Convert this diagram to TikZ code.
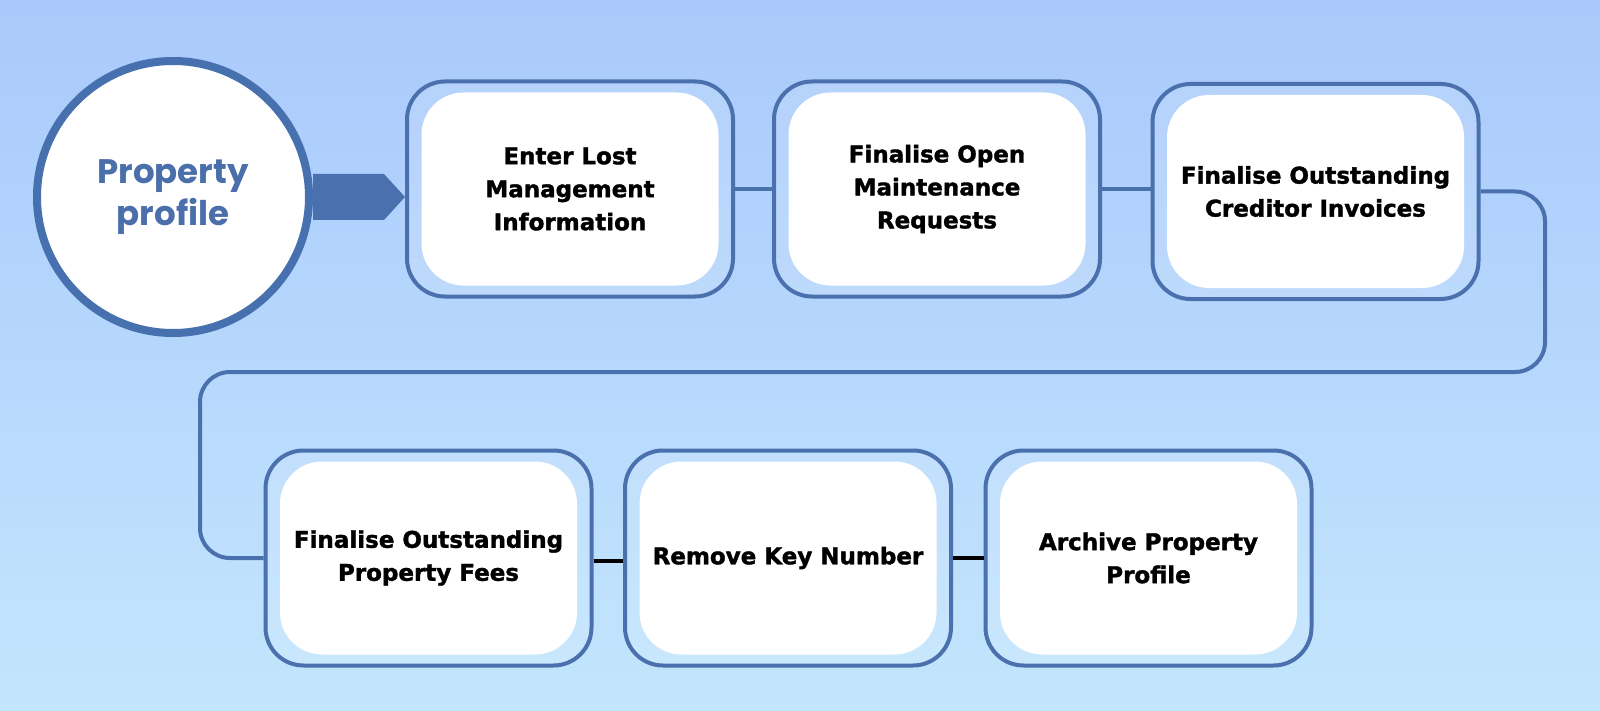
\documentclass[tikz,border=0pt]{standalone}
\usepackage{fontspec}
\setmainfont{DejaVu Sans}
\newfontfamily\stepfont{DejaVu Sans}[BoldFeatures={FakeBold=1.6}]
\newfontfamily\titlefont{Poppins}
\definecolor{bgtop}{HTML}{A9C9FC}
\definecolor{bgbot}{HTML}{C3E6FD}
\definecolor{linkblue}{HTML}{4A70AD}
\definecolor{ringblue}{HTML}{4670AE}
\definecolor{titleblue}{HTML}{4A6FAB}
\NewDocumentCommand{\drawstep}{m m m m}{
    \node[stepouter] (#1) at (#2,#3) {};
    \node[stepinner] (#1in) at (#1) {#4};
}
\tikzset{
    stepouter/.style={rectangle, rounded corners=38pt, draw=linkblue, line width=4pt,
        fill=white, fill opacity=0.12, minimum width=326pt, minimum height=215pt},
    stepinner/.style={rectangle, rounded corners=42pt, fill=white, fill opacity=1,
        minimum width=297pt, minimum height=193pt, align=center,
        font=\stepfont\bfseries\fontsize{23pt}{33pt}\selectfont},
    link/.style={draw=linkblue, line width=4pt},
    blacklink/.style={draw=black, line width=4pt}
}
\begin{document}
\begin{tikzpicture}[x=1pt,y=-1pt]
        \useasboundingbox (0,0) rectangle (1600,711);
        \fill[top color=bgtop, bottom color=bgbot] (0,0) rectangle (1600,711);

        % start
        \node[circle, draw=ringblue, line width=8pt, fill=white, minimum size=272pt,
            text=titleblue, align=center,
            font=\titlefont\bfseries\fontsize{34pt}{42pt}\selectfont] (pp) at (173,197) {Property\\profile};

        % top row
        \def\y{189}
        \drawstep{s1}{570}{\y}{Enter Lost\\Management\\Information}
        \drawstep{s2}{937}{\y}{Finalise Open\\Maintenance\\Requests}
        \drawstep{s3}{1315.5}{\y+2.5}{Finalise Outstanding\\Creditor Invoices}

        % bottom row
        \def\y{558}
        \drawstep{s4}{428.5}{\y}{Finalise Outstanding\\Property Fees}
        \drawstep{s5}{788}{\y}{Remove Key Number}
        \drawstep{s6}{1148.5}{\y}{Archive Property\\Profile}

        \fill[linkblue] ([yshift=23pt]pp.east) -- ([xshift=-21pt,yshift=23pt]pp.east -| s1.west)
            -- (pp.east -| s1.west) -- ([xshift=-21pt,yshift=-23pt]pp.east -| s1.west)
            -- ([yshift=-23pt]pp.east) -- cycle;

        \draw[link] (s1.east) -- (s2.west);
        \draw[link] (s2.east) -- (s2.east -| s3.west);

        \coordinate (bendR) at (1545,372);
        \coordinate (bendL) at (200,372);
        \draw[link, rounded corners=30pt] (s3.east) -| (bendR) -- (bendL) |- (s4.west);

        \draw[blacklink] ([yshift=-3pt]s4.east) -- ([yshift=-3pt]s5.west);
        \draw[blacklink] (s5.east) -- (s6.west);
    \end{tikzpicture}
\end{document}
